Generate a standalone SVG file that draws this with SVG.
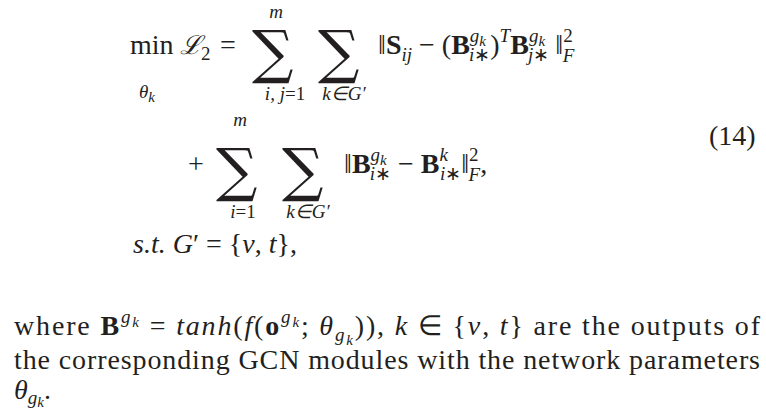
<svg xmlns="http://www.w3.org/2000/svg" width="766" height="414" viewBox="0 0 766 414">
<style>
text{font-family:"Liberation Serif","Times New Roman",Tinos,serif;fill:#231f20;font-size:28px}
.i{font-style:italic}
.b{font-weight:bold}
.s{font-size:19px}
.ss{font-size:15px}
.big{font-size:58px;font-family:"DejaVu Serif",serif}
</style>
<rect width="766" height="414" fill="#fff"/>
<g id="eq1">
<text x="130" y="54">min</text>
<text x="139" y="98" class="i s">θ<tspan class="ss" dy="4">k</tspan></text>
<text x="180" y="54" style="font-family:'DejaVu Serif',serif;font-style:italic;font-size:26px">ℒ</text>
<text x="201" y="60" class="s">2</text>
<text x="220" y="54">=</text>
<text x="276" y="18" class="i s" text-anchor="middle">m</text>
<text x="252" y="72" class="big">∑</text>
<text x="285" y="100" class="s" text-anchor="middle"><tspan class="i">i, j</tspan>=1</text>
<text x="318" y="72" class="big">∑</text>
<text x="344" y="100" class="s i" text-anchor="middle">k∈G′</text>
<text x="378" y="54">‖<tspan class="b">S</tspan><tspan class="s i" dy="7">ij</tspan><tspan dy="-7"> − (</tspan><tspan class="b">B</tspan><tspan class="s i" dy="-12">g</tspan><tspan class="ss i" dy="4">k</tspan><tspan class="s i" dx="-17" dy="15">i</tspan><tspan class="s">∗</tspan><tspan dy="-7">)</tspan><tspan class="s i" dy="-12">T</tspan><tspan class="b" dy="12">B</tspan><tspan class="s i" dy="-12">g</tspan><tspan class="ss i" dy="4">k</tspan><tspan class="s i" dx="-17" dy="15">j</tspan><tspan class="s">∗</tspan><tspan dy="-7" dx="6">‖</tspan><tspan class="s" dy="-12">2</tspan><tspan class="s i" dx="-10" dy="20">F</tspan></text>
</g>
<g id="eq2">
<text x="240" y="126" class="i s" text-anchor="middle">m</text>
<text x="188" y="173">+</text>
<text x="216" y="190" class="big">∑</text>
<text x="243" y="218" class="s" text-anchor="middle"><tspan class="i">i</tspan>=1</text>
<text x="282" y="190" class="big">∑</text>
<text x="308" y="218" class="s i" text-anchor="middle">k∈G′</text>
<text x="344" y="173">‖<tspan class="b">B</tspan><tspan class="s i" dy="-12">g</tspan><tspan class="ss i" dy="4">k</tspan><tspan class="s i" dx="-17" dy="15">i</tspan><tspan class="s">∗</tspan><tspan dy="-7"> − </tspan><tspan class="b">B</tspan><tspan class="s i" dy="-12">k</tspan><tspan class="s i" dx="-8" dy="19">i</tspan><tspan class="s">∗</tspan><tspan dy="-7">‖</tspan><tspan class="s" dy="-12">2</tspan><tspan class="s i" dx="-10" dy="20">F</tspan><tspan dy="-8">,</tspan></text>
<text x="709" y="145">(14)</text>
</g>
<g id="eq3">
<text x="133" y="253"><tspan class="i">s.t.</tspan> <tspan class="i">G</tspan>′ = {<tspan class="i">v</tspan>, <tspan class="i">t</tspan>},</text>
</g>
<g id="para">
<text x="14" y="335" textLength="746" lengthAdjust="spacing">where <tspan class="b">B</tspan><tspan class="s i" dy="-12">g</tspan><tspan class="ss i" dy="4">k</tspan><tspan dy="8"> = </tspan><tspan class="i">tanh</tspan>(<tspan class="i">f</tspan>(<tspan class="b">o</tspan><tspan class="s i" dy="-12">g</tspan><tspan class="ss i" dy="4">k</tspan><tspan dy="8">; </tspan><tspan class="i">θ</tspan><tspan class="s i" dy="6">g</tspan><tspan class="ss i" dy="4">k</tspan><tspan dy="-10">)), </tspan><tspan class="i">k</tspan> ∈ {<tspan class="i">v</tspan>, <tspan class="i">t</tspan>} are the outputs of</text>
<text x="14" y="369" textLength="746" lengthAdjust="spacing">the corresponding GCN modules with the network parameters</text>
<text x="14" y="399"><tspan class="i">θ</tspan><tspan class="s i" dy="5">g</tspan><tspan class="ss i" dy="3">k</tspan><tspan dy="-8">.</tspan></text>
</g>
</svg>
